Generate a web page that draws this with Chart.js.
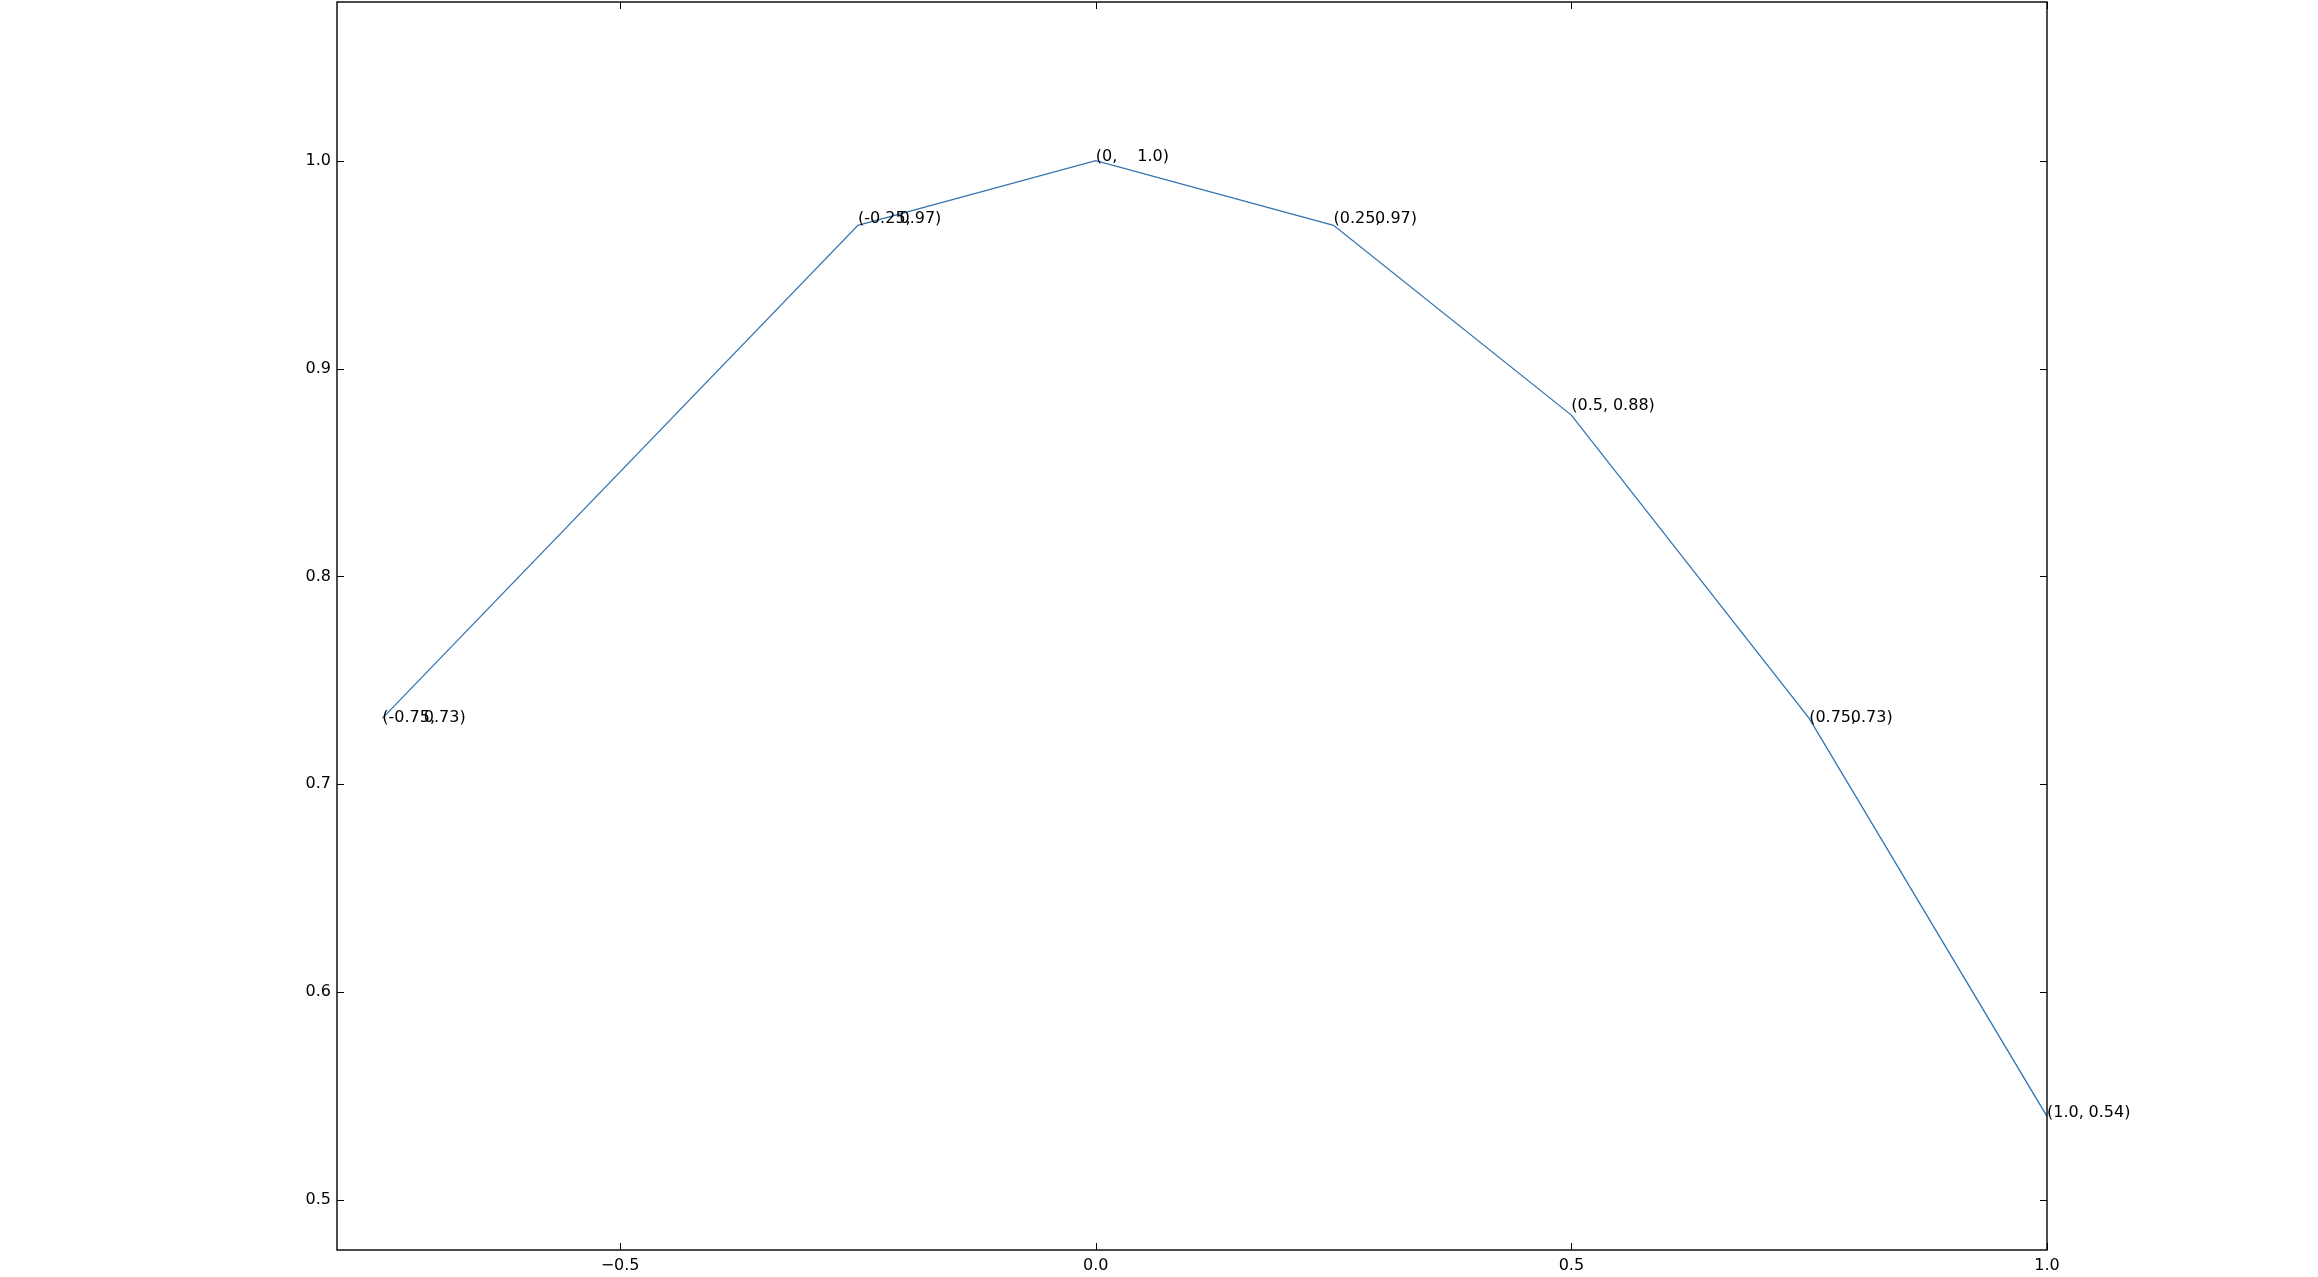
<!DOCTYPE html>
<html>
<head>
<meta charset="utf-8">
<script src="https://cdn.jsdelivr.net/npm/chart.js@4.4.0/dist/chart.umd.min.js"></script>
<style>
    html, body { margin: 0; padding: 0; background: #ffffff; }
    #wrap { width: 2318px; height: 1277px; }
</style>
</head>
<body>
<div id="wrap"><canvas id="cosChart"></canvas></div>
<script>
// --- data ---
const xValues = [-0.75, -0.25, 0, 0.25, 0.5, 0.75, 1.0];
const yValues = [0.7317, 0.9689, 1.0, 0.9689, 0.8776, 0.7317, 0.5403];
const xLabels = ["-0.75", "-0.25", "0", "0.25", "0.5", "0.75", "1.0"];
const yLabels = ["0.73", "0.97", "1.0", "0.97", "0.88", "0.73", "0.54"];
const xTicks = [-0.5, 0.0, 0.5, 1.0];
const yTicks = [0.5, 0.6, 0.7, 0.8, 0.9, 1.0];
const X_MIN = -0.7976, X_MAX = 1.0;
const Y_MIN = 0.476, Y_MAX = 1.0763;
const LABEL_SHIFT = 0.0437; // second half of each label sits this far right (data units)

const FONT = '16px "DejaVu Sans"';

function fmtTick(v) {
    const s = v.toFixed(1);
    return v < 0 ? "\u2212" + s.slice(1) : s;
}

// frame, inward ticks on all four sides, and the point labels
const framePlugin = {
    id: 'frame',
    afterDatasetsDraw(chart) {
        const ctx = chart.ctx;
        const xs = chart.scales.x;
        const ys = chart.scales.y;
        const area = chart.chartArea;

        ctx.save();
        ctx.font = FONT;
        ctx.fillStyle = '#000';
        ctx.textAlign = 'left';
        ctx.textBaseline = 'alphabetic';
        // labels sit at the rounded coordinates they print
        xLabels.forEach((xl, i) => {
            const lx = parseFloat(xl);
            const py = ys.getPixelForValue(parseFloat(yLabels[i]));
            ctx.fillText('(' + xl + ',', xs.getPixelForValue(lx), py);
            ctx.fillText(yLabels[i] + ')', xs.getPixelForValue(lx + LABEL_SHIFT), py);
        });

        ctx.strokeStyle = '#000';
        ctx.lineWidth = 1;
        const len = 7;
        ctx.beginPath();
        xTicks.forEach(v => {
            const px = Math.round(xs.getPixelForValue(v)) + 0.5;
            ctx.moveTo(px, area.bottom); ctx.lineTo(px, area.bottom - len);
            ctx.moveTo(px, area.top); ctx.lineTo(px, area.top + len);
        });
        yTicks.forEach(v => {
            const py = Math.round(ys.getPixelForValue(v)) + 0.5;
            ctx.moveTo(area.left, py); ctx.lineTo(area.left + len, py);
            ctx.moveTo(area.right, py); ctx.lineTo(area.right - len, py);
        });
        ctx.stroke();

        ctx.lineWidth = 1.4;
        ctx.strokeRect(area.left, area.top, area.right - area.left, area.bottom - area.top);
        ctx.restore();
    }
};

const ctx = document.getElementById('cosChart');
new Chart(ctx, {
    type: 'line',
    data: {
        datasets: [{
            data: xValues.map((x, i) => ({ x: x, y: yValues[i] })),
            borderColor: '#3574b0',
            borderWidth: 1.3,
            pointRadius: 0,
            tension: 0,
            fill: false
        }]
    },
    options: {
        responsive: true,
        maintainAspectRatio: false,
        animation: false,
        layout: { padding: { top: 2, right: 271, left: 0, bottom: 0 } },
        plugins: {
            legend: { display: false },
            tooltip: { enabled: false }
        },
        scales: {
            x: {
                type: 'linear',
                min: X_MIN,
                max: X_MAX,
                grid: { display: false, drawTicks: false },
                border: { display: false },
                afterBuildTicks: (axis) => { axis.ticks = xTicks.map(v => ({ value: v })); },
                afterFit: (axis) => {
                    axis.height = 27;
                    axis.paddingLeft = 0;
                    axis.paddingRight = 0;
                },
                ticks: {
                    font: { family: 'DejaVu Sans', size: 16 },
                    color: '#000',
                    padding: 6,
                    maxRotation: 0,
                    callback: (v) => fmtTick(v)
                }
            },
            y: {
                type: 'linear',
                min: Y_MIN,
                max: Y_MAX,
                grid: { display: false, drawTicks: false },
                border: { display: false },
                afterBuildTicks: (axis) => { axis.ticks = yTicks.map(v => ({ value: v })); },
                afterFit: (axis) => {
                    axis.width = 337;
                    axis.paddingTop = 0;
                    axis.paddingBottom = 0;
                },
                ticks: {
                    font: { family: 'DejaVu Sans', size: 16 },
                    color: '#000',
                    padding: 6,
                    callback: (v) => fmtTick(v)
                }
            }
        }
    },
    plugins: [framePlugin]
});
</script>
</body>
</html>
